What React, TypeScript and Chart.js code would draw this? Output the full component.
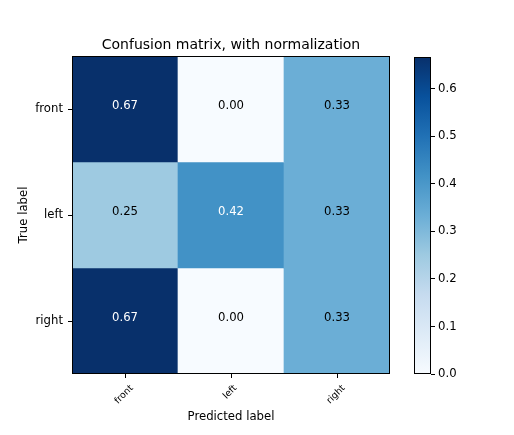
import React, { useEffect, useRef } from 'react';
import { Chart, registerables } from 'chart.js';

Chart.register(...registerables);

// ---- data ----
const PRED_LABELS = ['front', 'left', 'right'];
const TRUE_LABELS = ['front', 'left', 'right'];
const ROW_FRONT = [0.667, 0.0, 0.333];
const ROW_LEFT = [0.25, 0.417, 0.333];
const ROW_RIGHT = [0.667, 0.0, 0.333];
const MATRIX = [ROW_FRONT, ROW_LEFT, ROW_RIGHT];
const CB_TICKS = [0.0, 0.1, 0.2, 0.3, 0.4, 0.5, 0.6];
const TITLE = 'Confusion matrix, with normalization';
const X_TITLE = 'Predicted label';
const Y_TITLE = 'True label';

// ---- style ----
const FAMILY = '"DejaVu Sans", sans-serif';
const TXT = '#000';
const BLUES = ['#f7fbff', '#deebf7', '#c6dbef', '#9ecae1', '#6baed6', '#4292c6', '#2171b5', '#08519c', '#08306b'];

const VMIN = Math.min(...MATRIX.flat());
const VMAX = Math.max(...MATRIX.flat());
const THRESH = VMAX / 2;

function hexToRgb(h: string) {
  const n = parseInt(h.slice(1), 16);
  return [(n >> 16) & 255, (n >> 8) & 255, n & 255];
}
function blues(t: number) {
  const tt = Math.max(0, Math.min(1, t)) * (BLUES.length - 1);
  const i = Math.min(BLUES.length - 2, Math.floor(tt));
  const f = tt - i;
  const a = hexToRgb(BLUES[i]);
  const b = hexToRgb(BLUES[i + 1]);
  const c = a.map((v, k) => Math.round(v + (b[k] - v) * f));
  return `rgb(${c[0]},${c[1]},${c[2]})`;
}

const framePlugin = {
  id: 'frame',
  afterDatasetsDraw(chart: any) {
    const { ctx, chartArea: a } = chart;
    ctx.save();
    ctx.strokeStyle = '#000';
    ctx.lineWidth = 1;
    ctx.strokeRect(Math.round(a.left) + 0.5, Math.round(a.top) + 0.5, Math.round(a.right - a.left) - 1, Math.round(a.bottom - a.top) - 1);
    ctx.restore();
  },
};

const cellTextPlugin = {
  id: 'cellText',
  afterDatasetsDraw(chart: any) {
    const ctx = chart.ctx;
    ctx.save();
    ctx.font = `11.7px ${FAMILY}`;
    ctx.textAlign = 'center';
    ctx.textBaseline = 'middle';
    chart.data.datasets.forEach((_ds: any, r: number) => {
      const meta = chart.getDatasetMeta(r);
      meta.data.forEach((el: any, c: number) => {
        const v = MATRIX[r][c];
        const p = el.getCenterPoint();
        ctx.fillStyle = v > THRESH ? '#fff' : '#000';
        ctx.fillText(v.toFixed(2), p.x, p.y - 3);
      });
    });
    ctx.restore();
  },
};

const xTickPlugin = {
  id: 'xTickLabels',
  afterDraw(chart: any) {
    const xs = chart.scales.x;
    const ctx = chart.ctx;
    const fs = 9.3;
    ctx.save();
    ctx.font = `${fs}px ${FAMILY}`;
    ctx.fillStyle = TXT;
    ctx.textAlign = 'center';
    ctx.textBaseline = 'middle';
    PRED_LABELS.forEach((label, i) => {
      const px = xs.getPixelForTick(i);
      const L = ctx.measureText(label).width;
      const H = fs * 1.15;
      const half = (L + H) / (2 * Math.SQRT2);
      ctx.save();
      ctx.translate(px - 1, xs.top + 9 + half);
      ctx.rotate(-Math.PI / 4);
      ctx.fillText(label, 0, 0);
      ctx.restore();
    });
    ctx.restore();
  },
};

function HeatmapChart() {
  const ref = useRef<HTMLCanvasElement | null>(null);
  useEffect(() => {
    const chart = new Chart(ref.current as HTMLCanvasElement, {
      type: 'bar',
      data: {
        labels: PRED_LABELS,
        datasets: TRUE_LABELS.map((lab, r) => ({
          label: lab,
          data: MATRIX[r].map(() => [r, r + 1]),
          backgroundColor: MATRIX[r].map((v) => blues((v - VMIN) / (VMAX - VMIN))),
          borderWidth: 0,
          grouped: false,
          barPercentage: 1,
          categoryPercentage: 1,
        })),
      } as any,
      options: {
        responsive: false,
        animation: false,
        layout: { padding: { left: 0, top: 0, right: 124, bottom: 0 } },
        plugins: {
          legend: { display: false },
          tooltip: { enabled: false },
          title: {
            display: true,
            text: TITLE,
            fullSize: false,
            color: TXT,
            font: { family: FAMILY, size: 14, weight: 'normal' },
            padding: { top: 36.6, bottom: 2.6 },
          },
        },
        scales: {
          x: {
            type: 'category',
            offset: true,
            grid: { display: true, drawOnChartArea: false, drawTicks: true, tickLength: 4, color: '#000', offset: false },
            border: { display: false },
            ticks: { display: false },
            title: { display: true, text: X_TITLE, color: TXT, font: { family: FAMILY, size: 11.7 }, padding: { top: 0, bottom: 11.5 } },
            afterFit: (s: any) => { s.height = 61; },
          },
          y: {
            type: 'linear',
            min: 0,
            max: 3,
            reverse: true,
            grid: { display: true, drawOnChartArea: false, drawTicks: true, tickLength: 4, color: '#000' },
            border: { display: false },
            afterBuildTicks: (s: any) => { s.ticks = TRUE_LABELS.map((_l, i) => ({ value: i + 0.5 })); },
            ticks: {
              color: TXT,
              padding: 5,
              font: { family: FAMILY, size: 11.7 },
              callback: (v: any) => TRUE_LABELS[Math.floor(Number(v))],
            },
            title: { display: true, text: Y_TITLE, color: TXT, font: { family: FAMILY, size: 11.7 }, padding: { top: 16.5, bottom: 0 } },
            afterFit: (s: any) => { s.width = 72; },
          },
        },
      } as any,
      plugins: [framePlugin, cellTextPlugin, xTickPlugin],
    });
    return () => chart.destroy();
  }, []);
  return <canvas ref={ref} width={514} height={435} style={{ position: 'absolute', left: 0, top: 0 }} />;
}

function ColorbarChart() {
  const ref = useRef<HTMLCanvasElement | null>(null);
  useEffect(() => {
    const chart = new Chart(ref.current as HTMLCanvasElement, {
      type: 'bar',
      data: {
        labels: ['cb'],
        datasets: [
          {
            data: [[VMIN, VMAX]],
            borderWidth: 0,
            barPercentage: 1,
            categoryPercentage: 1,
            backgroundColor: (c: any) => {
              const ch = c.chart;
              const ys = ch.scales.y;
              if (!ys || !ch.chartArea) return BLUES[4];
              const g = ch.ctx.createLinearGradient(0, ys.getPixelForValue(VMIN), 0, ys.getPixelForValue(VMAX));
              BLUES.forEach((col, i) => g.addColorStop(i / (BLUES.length - 1), col));
              return g;
            },
          },
        ],
      } as any,
      options: {
        responsive: false,
        animation: false,
        layout: { padding: { left: 34, top: 57, right: 0, bottom: 61 } },
        plugins: { legend: { display: false }, tooltip: { enabled: false }, title: { display: false } },
        scales: {
          x: { display: false },
          y: {
            type: 'linear',
            position: 'right',
            min: VMIN,
            max: VMAX,
            grid: { display: true, drawOnChartArea: false, drawTicks: true, tickLength: 4, color: '#000' },
            border: { display: false },
            afterBuildTicks: (s: any) => { s.ticks = CB_TICKS.map((v) => ({ value: v })); },
            ticks: {
              color: TXT,
              padding: 3,
              font: { family: FAMILY, size: 11.7 },
              callback: (v: any) => Number(v).toFixed(1),
            },
            afterFit: (s: any) => { s.width = 83; },
          },
        },
      } as any,
      plugins: [framePlugin],
    });
    return () => chart.destroy();
  }, []);
  return <canvas ref={ref} width={134} height={435} style={{ position: 'absolute', left: 380, top: 0 }} />;
}

export default function App() {
  return (
    <div style={{ position: 'fixed', left: 0, top: 0, width: 514, height: 435, background: '#fff' }}>
      <HeatmapChart />
      <ColorbarChart />
    </div>
  );
}
